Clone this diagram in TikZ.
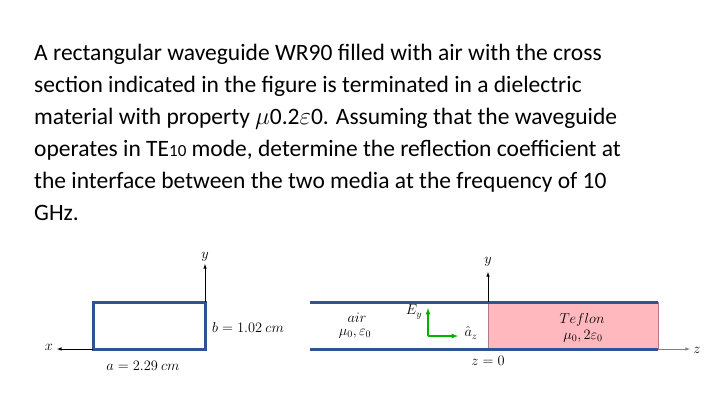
\documentclass[tikz,border=0pt]{standalone}
\usepackage{fontspec}
\setmainfont{Carlito}
\begin{document}
\begin{tikzpicture}[x=1pt,y=-1pt,
 wg/.style={draw={rgb,255:red,47;green,84;blue,150},line width=3pt},
 ax/.style={-latex,line width=0.6pt},
 para/.style={anchor=base west,inner sep=0,font=\fontsize{23.5}{25}\selectfont},
 lbl/.style={inner sep=1pt,font=\fontsize{14.5}{15}\selectfont}]
\useasboundingbox (0,0) rectangle (723,400);
\node[para] (l1) at (34,60) {A rectangular waveguide WR90 filled with air with the cross};
\node[para] (l2) at (34,92) {section indicated in the figure is terminated in a dielectric};
\node[para] (l3) at (34,124) {material with property $\mu$0.2$\varepsilon$0. Assuming that the waveguide};
\node[para] (l4) at (34,156) {operates in TE{\fontsize{17}{18}\selectfont 10} mode, determine the reflection coefficient at};
\node[para] (l5) at (34,188) {the interface between the two media at the frequency of 10};
\node[para] (l6) at (34,220) {GHz.};
% left
\draw[wg] (93,302) rectangle (205,349);
\coordinate (o1) at (205,302);
\coordinate (yt) at (205,264);
\draw[ax] (o1) -- (yt);
\node[lbl] (ly) at (205,257) {$y$};
\coordinate (xo) at (93,349);
\coordinate (xe) at (57,349);
\draw[ax] (xo) -- (xe);
\node[lbl] (lx) at (49,347) {$x$};
\node[lbl] (la) at (143,366) {$a=2.29\ cm$};
\node[lbl] (lb) at (248,327) {$b=1.02\ cm$};
% right
\fill[fill={rgb,255:red,255;green,185;blue,190}] (488,302) rectangle (658,349);
\draw[draw={rgb,255:red,180;green,120;blue,140},line width=0.8pt] (488,302) rectangle (658,349);
\draw[wg] (310,302) -- (658,302);
\draw[wg] (310,349) -- (658,349);
\coordinate (o2) at (488,302);
\coordinate (yt2) at (488,272);
\draw[ax] (o2) -- (yt2);
\node[lbl] (ly2) at (488,262) {$y$};
\coordinate (zo) at (658,349);
\coordinate (ze) at (690,349);
\draw[ax,gray] (zo) -- (ze);
\node[lbl] (lz) at (697,350) {$z$};
\node[lbl] (lz0) at (488,361) {$z=0$};
\node[lbl] (air) at (357,318) {$air$};
\node[lbl] (m1) at (355,334) {$\mu_0,\varepsilon_0$};
\node[lbl] (te) at (582,320) {$Teflon$};
\node[lbl] (m2) at (583,336) {$\mu_0,2\varepsilon_0$};
\coordinate (g0) at (428,336);
\coordinate (gu) at (428,308);
\coordinate (gr) at (458,336);
\draw[-latex,line width=1.2pt,green!70!black] (g0) -- (gu);
\draw[-latex,line width=1.2pt,green!70!black] (g0) -- (gr);
\node[lbl] (ey) at (414,312) {$E_y$};
\node[lbl] (az) at (471,333) {$\hat{a}_z$};
\end{tikzpicture}
\end{document}
